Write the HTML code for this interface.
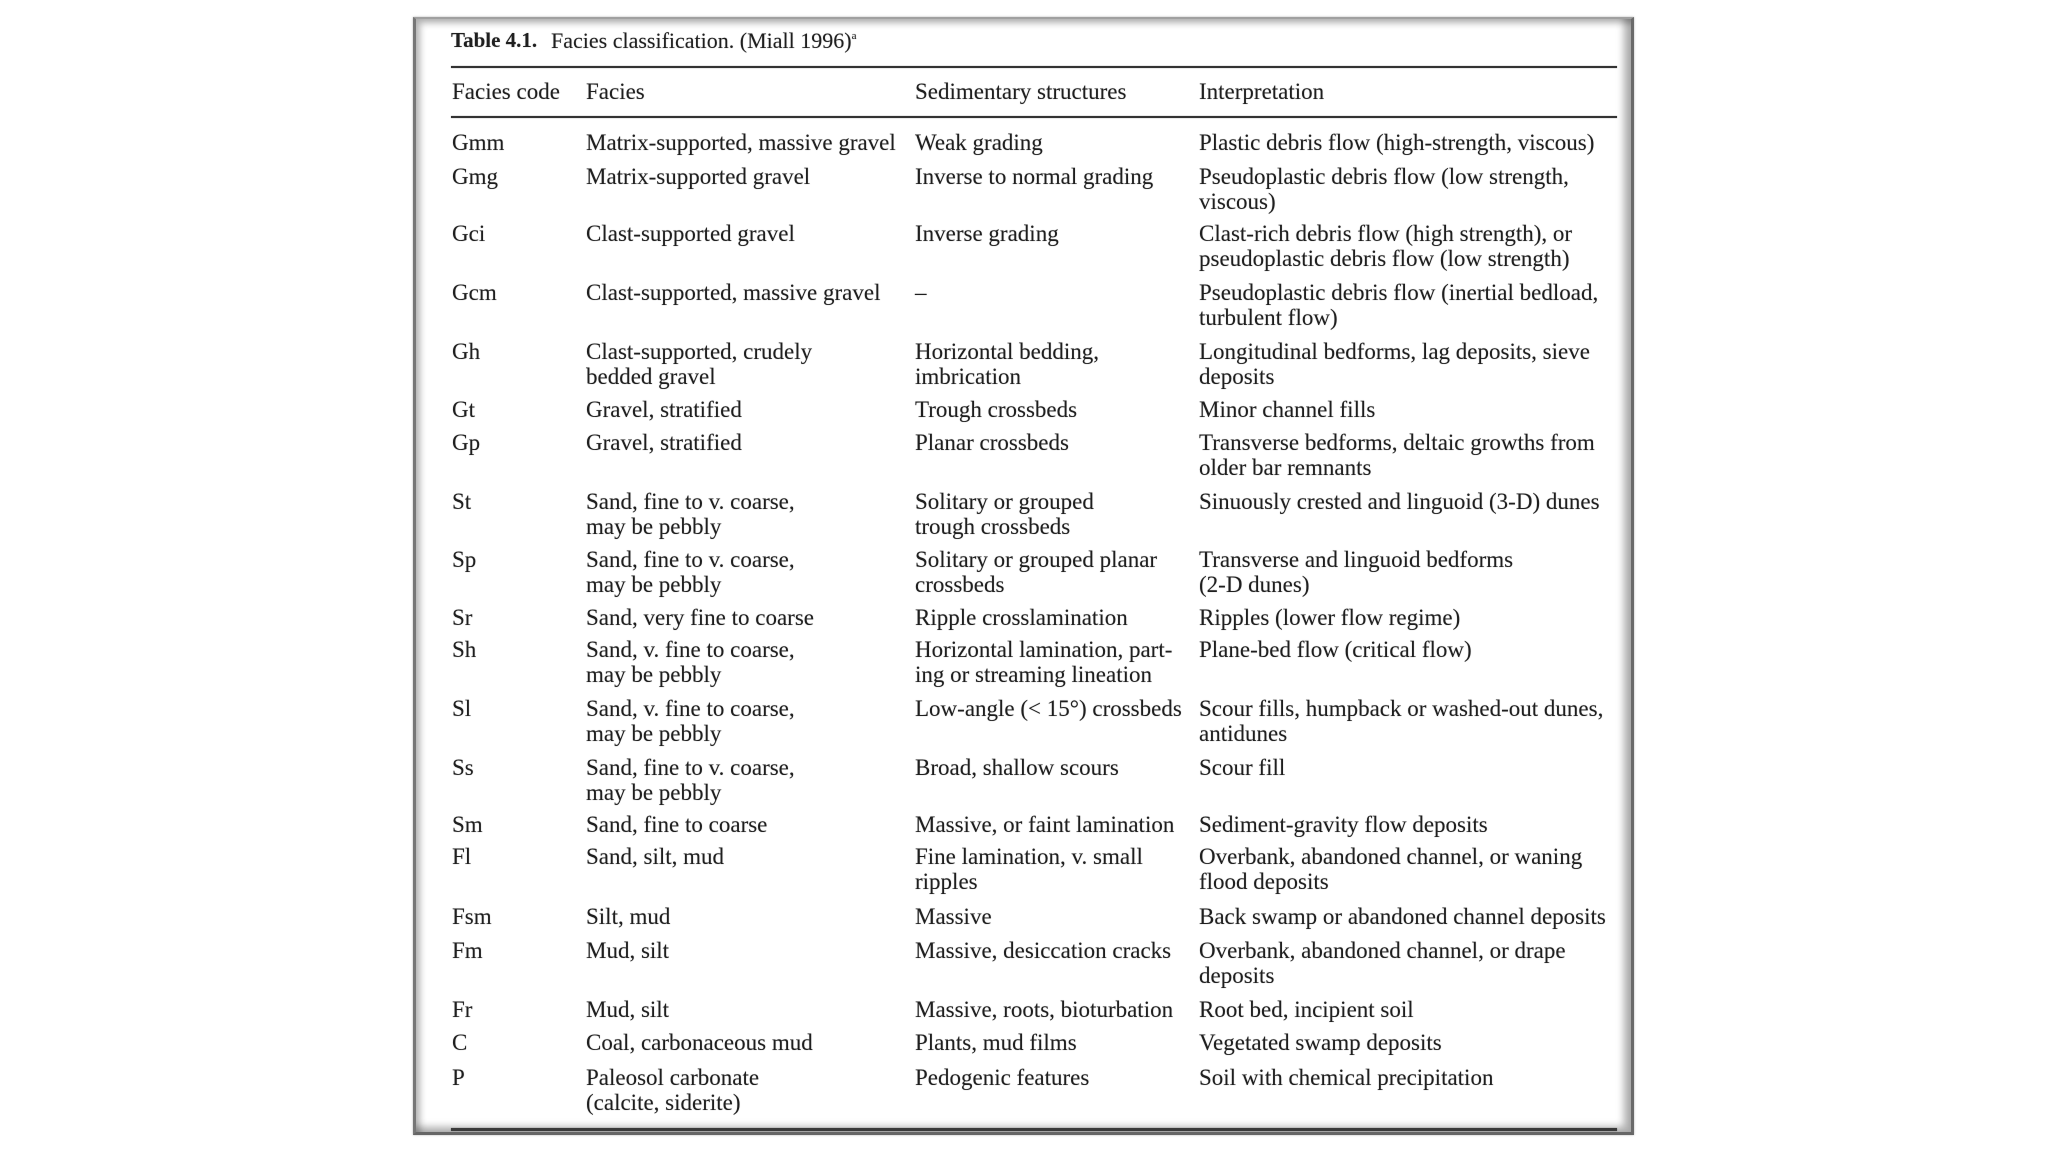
<!DOCTYPE html>
<html>
<head>
<meta charset="utf-8">
<style>
  html, body { margin:0; padding:0; background:#fff; }
  body { width:2048px; height:1152px; position:relative; overflow:hidden;
         font-family:"Liberation Serif", serif; color:#1f1f1f; }
  .frame { position:absolute; left:413px; top:17px; width:1221px; height:1118px;
           box-sizing:border-box; background:#fff;
           border-top:2px solid #a0a0a0; border-left:3px solid #767676;
           border-right:3px solid #6a6a6a; border-bottom:3px solid #666;
           box-shadow: inset 4px 4px 7px rgba(0,0,0,0.30), inset -7px -5px 8px rgba(0,0,0,0.32), 0 0 2px rgba(0,0,0,0.3); }
  .rule { position:absolute; left:451px; width:1166px; background:#333; box-shadow:0 0 1px rgba(0,0,0,0.5); }
  .t { position:absolute; font-size:23px; line-height:25px; white-space:nowrap;
       text-shadow: 0 0 1px rgba(0,0,0,0.35); }
  .c1 { left:452px; } .c2 { left:586px; } .c3 { left:915px; } .c4 { left:1199px; }
  .title { position:absolute; top:28px; font-size:22px; line-height:25px; white-space:nowrap;
           text-shadow: 0 0 1px rgba(0,0,0,0.35); }
</style>
</head>
<body>
<div class="frame"></div>

<div class="title" style="left:451px;font-weight:bold;font-size:21px;">Table 4.1.</div>
<div class="title" style="left:551px;">Facies classification. (Miall 1996)<sup style="font-size:11px;vertical-align:9px;line-height:0;">a</sup></div>

<div class="rule" style="top:66px;height:2px;"></div>
<div class="rule" style="top:116px;height:2px;"></div>
<div class="rule" style="top:1128px;height:3px;background:#3a3a3a;"></div>

<!-- header -->
<div class="t c1" style="top:79px">Facies code</div>
<div class="t c2" style="top:79px">Facies</div>
<div class="t c3" style="top:79px">Sedimentary structures</div>
<div class="t c4" style="top:79px">Interpretation</div>

<!-- Gmm -->
<div class="t c1" style="top:130px">Gmm</div>
<div class="t c2" style="top:130px">Matrix-supported, massive gravel</div>
<div class="t c3" style="top:130px">Weak grading</div>
<div class="t c4" style="top:130px">Plastic debris flow (high-strength, viscous)</div>

<!-- Gmg -->
<div class="t c1" style="top:164px">Gmg</div>
<div class="t c2" style="top:164px">Matrix-supported gravel</div>
<div class="t c3" style="top:164px">Inverse to normal grading</div>
<div class="t c4" style="top:164px">Pseudoplastic debris flow (low strength,<br>viscous)</div>

<!-- Gci -->
<div class="t c1" style="top:221px">Gci</div>
<div class="t c2" style="top:221px">Clast-supported gravel</div>
<div class="t c3" style="top:221px">Inverse grading</div>
<div class="t c4" style="top:221px">Clast-rich debris flow (high strength), or<br>pseudoplastic debris flow (low strength)</div>

<!-- Gcm -->
<div class="t c1" style="top:280px">Gcm</div>
<div class="t c2" style="top:280px">Clast-supported, massive gravel</div>
<div class="t c3" style="top:280px">–</div>
<div class="t c4" style="top:280px">Pseudoplastic debris flow (inertial bedload,<br>turbulent flow)</div>

<!-- Gh -->
<div class="t c1" style="top:339px">Gh</div>
<div class="t c2" style="top:339px">Clast-supported, crudely<br>bedded gravel</div>
<div class="t c3" style="top:339px">Horizontal bedding,<br>imbrication</div>
<div class="t c4" style="top:339px">Longitudinal bedforms, lag deposits, sieve<br>deposits</div>

<!-- Gt -->
<div class="t c1" style="top:397px">Gt</div>
<div class="t c2" style="top:397px">Gravel, stratified</div>
<div class="t c3" style="top:397px">Trough crossbeds</div>
<div class="t c4" style="top:397px">Minor channel fills</div>

<!-- Gp -->
<div class="t c1" style="top:430px">Gp</div>
<div class="t c2" style="top:430px">Gravel, stratified</div>
<div class="t c3" style="top:430px">Planar crossbeds</div>
<div class="t c4" style="top:430px">Transverse bedforms, deltaic growths from<br>older bar remnants</div>

<!-- St -->
<div class="t c1" style="top:489px">St</div>
<div class="t c2" style="top:489px">Sand, fine to v. coarse,<br>may be pebbly</div>
<div class="t c3" style="top:489px">Solitary or grouped<br>trough crossbeds</div>
<div class="t c4" style="top:489px">Sinuously crested and linguoid (3-D) dunes</div>

<!-- Sp -->
<div class="t c1" style="top:547px">Sp</div>
<div class="t c2" style="top:547px">Sand, fine to v. coarse,<br>may be pebbly</div>
<div class="t c3" style="top:547px">Solitary or grouped planar<br>crossbeds</div>
<div class="t c4" style="top:547px">Transverse and linguoid bedforms<br>(2-D dunes)</div>

<!-- Sr -->
<div class="t c1" style="top:605px">Sr</div>
<div class="t c2" style="top:605px">Sand, very fine to coarse</div>
<div class="t c3" style="top:605px">Ripple crosslamination</div>
<div class="t c4" style="top:605px">Ripples (lower flow regime)</div>

<!-- Sh -->
<div class="t c1" style="top:637px">Sh</div>
<div class="t c2" style="top:637px">Sand, v. fine to coarse,<br>may be pebbly</div>
<div class="t c3" style="top:637px">Horizontal lamination, part-<br>ing or streaming lineation</div>
<div class="t c4" style="top:637px">Plane-bed flow (critical flow)</div>

<!-- Sl -->
<div class="t c1" style="top:696px">Sl</div>
<div class="t c2" style="top:696px">Sand, v. fine to coarse,<br>may be pebbly</div>
<div class="t c3" style="top:696px">Low-angle (&lt; 15°) crossbeds</div>
<div class="t c4" style="top:696px">Scour fills, humpback or washed-out dunes,<br>antidunes</div>

<!-- Ss -->
<div class="t c1" style="top:755px">Ss</div>
<div class="t c2" style="top:755px">Sand, fine to v. coarse,<br>may be pebbly</div>
<div class="t c3" style="top:755px">Broad, shallow scours</div>
<div class="t c4" style="top:755px">Scour fill</div>

<!-- Sm -->
<div class="t c1" style="top:812px">Sm</div>
<div class="t c2" style="top:812px">Sand, fine to coarse</div>
<div class="t c3" style="top:812px">Massive, or faint lamination</div>
<div class="t c4" style="top:812px">Sediment-gravity flow deposits</div>

<!-- Fl -->
<div class="t c1" style="top:844px">Fl</div>
<div class="t c2" style="top:844px">Sand, silt, mud</div>
<div class="t c3" style="top:844px">Fine lamination, v. small<br>ripples</div>
<div class="t c4" style="top:844px">Overbank, abandoned channel, or waning<br>flood deposits</div>

<!-- Fsm -->
<div class="t c1" style="top:904px">Fsm</div>
<div class="t c2" style="top:904px">Silt, mud</div>
<div class="t c3" style="top:904px">Massive</div>
<div class="t c4" style="top:904px">Back swamp or abandoned channel deposits</div>

<!-- Fm -->
<div class="t c1" style="top:938px">Fm</div>
<div class="t c2" style="top:938px">Mud, silt</div>
<div class="t c3" style="top:938px">Massive, desiccation cracks</div>
<div class="t c4" style="top:938px">Overbank, abandoned channel, or drape<br>deposits</div>

<!-- Fr -->
<div class="t c1" style="top:997px">Fr</div>
<div class="t c2" style="top:997px">Mud, silt</div>
<div class="t c3" style="top:997px">Massive, roots, bioturbation</div>
<div class="t c4" style="top:997px">Root bed, incipient soil</div>

<!-- C -->
<div class="t c1" style="top:1030px">C</div>
<div class="t c2" style="top:1030px">Coal, carbonaceous mud</div>
<div class="t c3" style="top:1030px">Plants, mud films</div>
<div class="t c4" style="top:1030px">Vegetated swamp deposits</div>

<!-- P -->
<div class="t c1" style="top:1065px">P</div>
<div class="t c2" style="top:1065px">Paleosol carbonate<br>(calcite, siderite)</div>
<div class="t c3" style="top:1065px">Pedogenic features</div>
<div class="t c4" style="top:1065px">Soil with chemical precipitation</div>

</body>
</html>
